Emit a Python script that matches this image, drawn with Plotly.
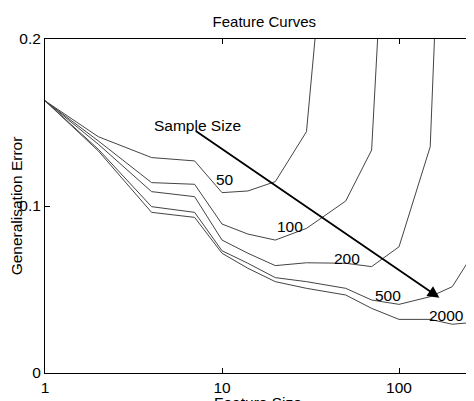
import math
import plotly.graph_objects as go

feature_size = [1, 2, 4, 7, 10, 14, 20, 30, 50, 70, 100, 150, 200, 250]
err_50 = [0.163, 0.1415, 0.129, 0.127, 0.108, 0.109, 0.1146, 0.1445, 0.40]
err_100 = [0.163, 0.139, 0.114, 0.113, 0.0892, 0.0832, 0.0796, 0.0866, 0.103, 0.1335, 0.437]
err_200 = [0.163, 0.137, 0.1086, 0.1056, 0.0796, 0.0717, 0.0643, 0.066, 0.0657, 0.0637, 0.0756, 0.1355, 0.47]
err_500 = [0.163, 0.134, 0.0996, 0.0962, 0.0732, 0.0657, 0.0571, 0.0547, 0.0507, 0.0437, 0.0411, 0.0457, 0.0517, 0.068]
err_2000 = [0.163, 0.133, 0.0962, 0.0932, 0.0717, 0.0627, 0.0547, 0.0507, 0.0467, 0.0387, 0.0321, 0.0321, 0.0292, 0.0301]
series = [("50", err_50), ("100", err_100), ("200", err_200), ("500", err_500), ("2000", err_2000)]
labels = [("50", 10.4, 0.1156), ("100", 24.2, 0.088), ("200", 51.0, 0.0684), ("500", 86.3, 0.0467), ("2000", 186, 0.0347)]

fig = go.Figure()
for name, ys in series:
    fig.add_trace(go.Scatter(x=feature_size[:len(ys)], y=ys, mode="lines", name=name,
                             line=dict(color="#444444", width=1), showlegend=False))

FAM = "Liberation Sans, Arial, sans-serif"
font = dict(family=FAM, size=15.5, color="black")
for t, x, y in labels:
    fig.add_annotation(x=math.log10(x), y=y, text=t, showarrow=False, font=font)
fig.add_annotation(x=0.864, y=0.148, text="Sample Size", showarrow=False, font=font)
fig.add_annotation(x=math.log10(169), y=0.0451, ax=math.log10(6.97), ay=0.1455, xref="x", yref="y",
                   axref="x", ayref="y", text="", showarrow=True, arrowhead=2, arrowsize=1.3,
                   arrowwidth=1.8, arrowcolor="black")
fig.add_annotation(x=0.5, y=0, xref="paper", yref="paper", yanchor="top", yshift=-19,
                   text="Feature Size", showarrow=False, font=font)

axis_common = dict(showgrid=False, zeroline=False, showline=True, linecolor="black", linewidth=1,
                   mirror="ticks", ticks="inside", ticklen=5, tickcolor="black",
                   tickfont=font, automargin=False)
fig.update_layout(
    width=466, height=393, margin=dict(l=37, r=3, t=31, b=28),
    paper_bgcolor="white", plot_bgcolor="white",
    title=dict(text="Feature Curves", x=0.55, xanchor="center", y=0.964, yanchor="middle",
               font=dict(family=FAM, size=15, color="black"), automargin=False),
    xaxis=dict(type="log", range=[0, math.log10(255)], tickvals=[1, 10, 100], ticktext=["1", "10", "100"],
               **axis_common),
    yaxis=dict(range=[0, 0.2], tickvals=[0, 0.1, 0.2], ticktext=["0", "0.1", "0.2"],
               title=dict(text="Generalisation Error", font=font, standoff=6), **axis_common),
)
fig.write_html("out.html")
